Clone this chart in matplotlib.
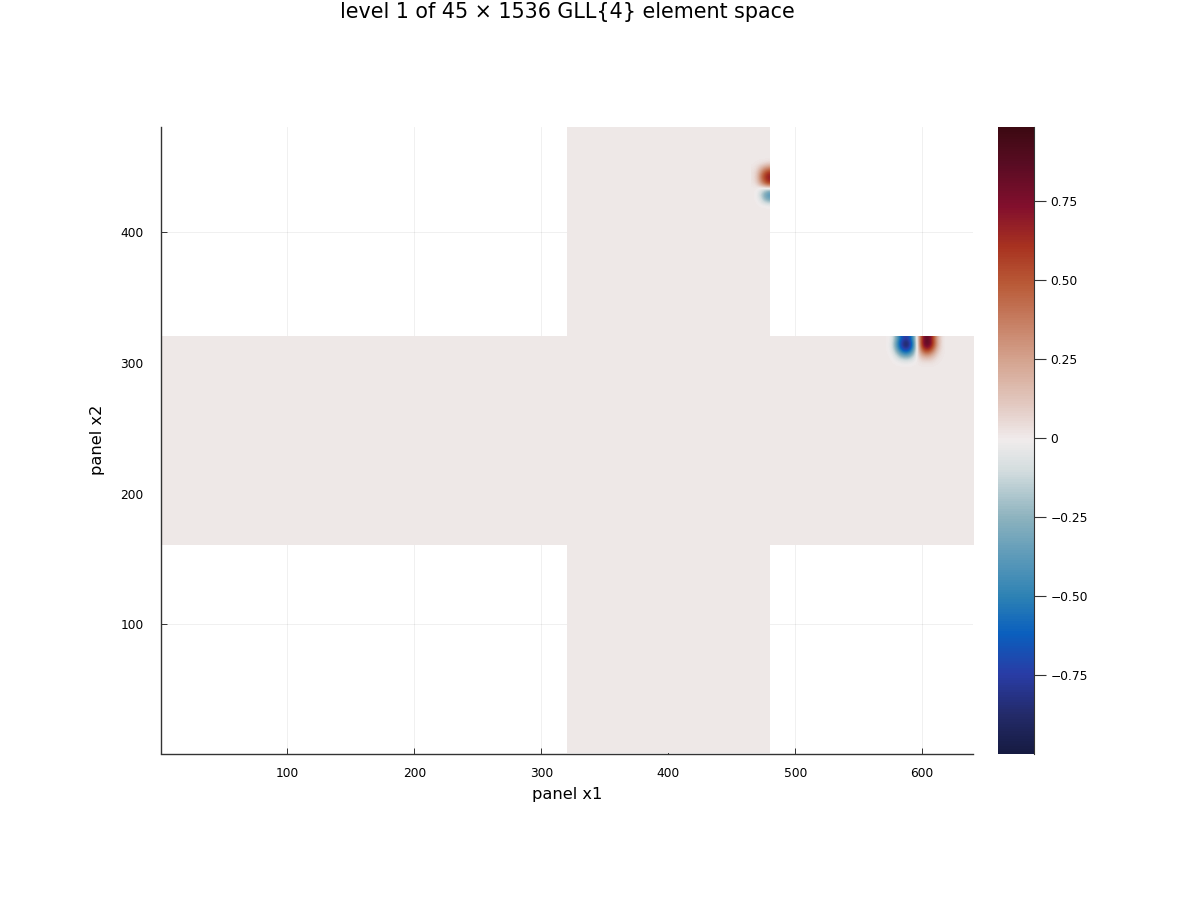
import numpy as np
import matplotlib
matplotlib.use("Agg")
import matplotlib.pyplot as plt
from matplotlib.colors import LinearSegmentedColormap

title = "level 1 of 45 × 1536 GLL{4} element space"
xticks = [100, 200, 300, 400, 500, 600]
yticks = [100, 200, 300, 400]
cticks = [-0.75, -0.5, -0.25, 0, 0.25, 0.5, 0.75]
clabels = ["−0.75", "−0.50", "−0.25", "0", "0.25", "0.50", "0.75"]
vmin, vmax = -0.999, 0.986
bg = 0.006
nan = np.nan

# panel layout: 4 columns x 3 rows of 160-wide panels, bottom row first
panels = [[nan, nan, bg, nan],
          [bg, bg, bg, bg],
          [nan, nan, bg, nan]]

# right-hand dipole, values on cells, bottom row first (x 570-618, y 296-320)
dipole_a = [
    [0, 0, 0, 0, 0, 0, 0, 0, 0, 0, 0, 0],
    [0, 0, -.03, -.08, -.1, -.06, 0, .05, .07, .05, .01, 0],
    [0, -.01, -.14, -.35, -.42, -.28, 0, .24, .32, .22, .05, 0],
    [0, -.04, -.32, -.68, -.8, -.55, -.03, .5, .68, .48, .14, 0],
    [0, -.05, -.42, -.82, -.99, -.68, -.03, .68, .92, .68, .22, 0],
    [0, -.03, -.32, -.68, -.8, -.55, -.02, .64, .9, .64, .2, 0],
]
# dipole at the top panel edge (x 465-480, y 418-460)
dipole_b = [
    [0, 0, 0, 0, 0],
    [0, 0, -.03, -.08, -.12],
    [0, -.01, -.08, -.22, -.32],
    [0, -.02, -.13, -.28, -.4],
    [0, -.01, -.08, -.2, -.3],
    [0, 0, 0, .03, .08],
    [.01, .06, .22, .4, .52],
    [.02, .1, .32, .52, .66],
    [.02, .1, .34, .54, .68],
    [.02, .08, .26, .44, .55],
    [.01, .04, .14, .25, .32],
    [0, .01, .03, .06, .1],
    [0, 0, 0, 0, 0],
    [0, 0, 0, 0, 0],
]

stops = [(-1.0, (22, 27, 66)), (-0.88, (35, 42, 105)), (-0.75, (41, 60, 165)), (-0.62, (10, 95, 190)),
         (-0.5, (45, 130, 180)), (-0.25, (140, 178, 190)), (-0.1, (210, 220, 222)), (0.0, (240, 236, 236)),
         (0.1, (228, 205, 198)), (0.25, (213, 165, 145)), (0.5, (185, 90, 55)), (0.62, (168, 50, 32)),
         (0.75, (130, 15, 45)), (0.88, (90, 12, 35)), (1.0, (60, 9, 18))]
cmap = LinearSegmentedColormap.from_list(
    "balance", [((v + 1) / 2, tuple(c / 255 for c in col)) for v, col in stops], N=256)
cmap.set_bad((1, 1, 1, 0))

fig = plt.figure(figsize=(12, 9), dpi=100)
W, H = 1200, 900
ax = fig.add_axes([160.5 / W, 1 - 753.5 / H, (973 - 160.5) / W, (753.5 - 127) / H])
kw = dict(cmap=cmap, vmin=vmin, vmax=vmax, origin="lower", aspect="auto", zorder=2)
im = ax.imshow(np.array(panels, dtype=float), extent=(0, 640, 0, 480), interpolation="nearest", **kw)
ax.imshow(np.array(dipole_a, dtype=float) + bg, extent=(570, 618, 296, 320), interpolation="bicubic", **kw)
ax.imshow(np.array(dipole_b, dtype=float) + bg, extent=(465, 479.5, 418, 460), interpolation="bicubic", **kw)
ax.set_xlim(0, 640)
ax.set_ylim(0.8, 480.8)
ax.set_xticks(xticks)
ax.set_yticks(yticks)
ax.grid(True, color="black", alpha=0.07, lw=0.6)
ax.set_axisbelow(True)
ax.tick_params(direction="in", length=4, width=0.7, labelsize=8.8, color="#333333", labelcolor="black")
ax.tick_params(axis="x", pad=10)
ax.tick_params(axis="y", pad=12)
for s in ("top", "right"):
    ax.spines[s].set_visible(False)
for s in ("left", "bottom"):
    ax.spines[s].set_linewidth(1.0)
    ax.spines[s].set_color("#333333")
    ax.spines[s].set_zorder(5)
ax.set_xlabel("panel x1", fontsize=11.7, labelpad=4.5)
ax.set_ylabel("panel x2", fontsize=11.7, labelpad=11)
fig.text(567 / W, 1 - 11.5 / H, title, fontsize=14.9, ha="center", va="center")

cax = fig.add_axes([998 / W, 1 - 753.5 / H, 36 / W, (753.5 - 127) / H])
cb = fig.colorbar(plt.cm.ScalarMappable(norm=im.norm, cmap=cmap), cax=cax)
cb.set_ticks(cticks)
cb.set_ticklabels(clabels)
cb.ax.tick_params(length=8.5, width=0.8, labelsize=8.8, color="#333333", pad=3.5)
cb.outline.set_visible(False)
cb.ax.spines["right"].set_visible(True)
cb.ax.spines["right"].set_color("#333333")
cb.ax.spines["right"].set_linewidth(0.8)
fig.savefig("out.png", dpi=100)
